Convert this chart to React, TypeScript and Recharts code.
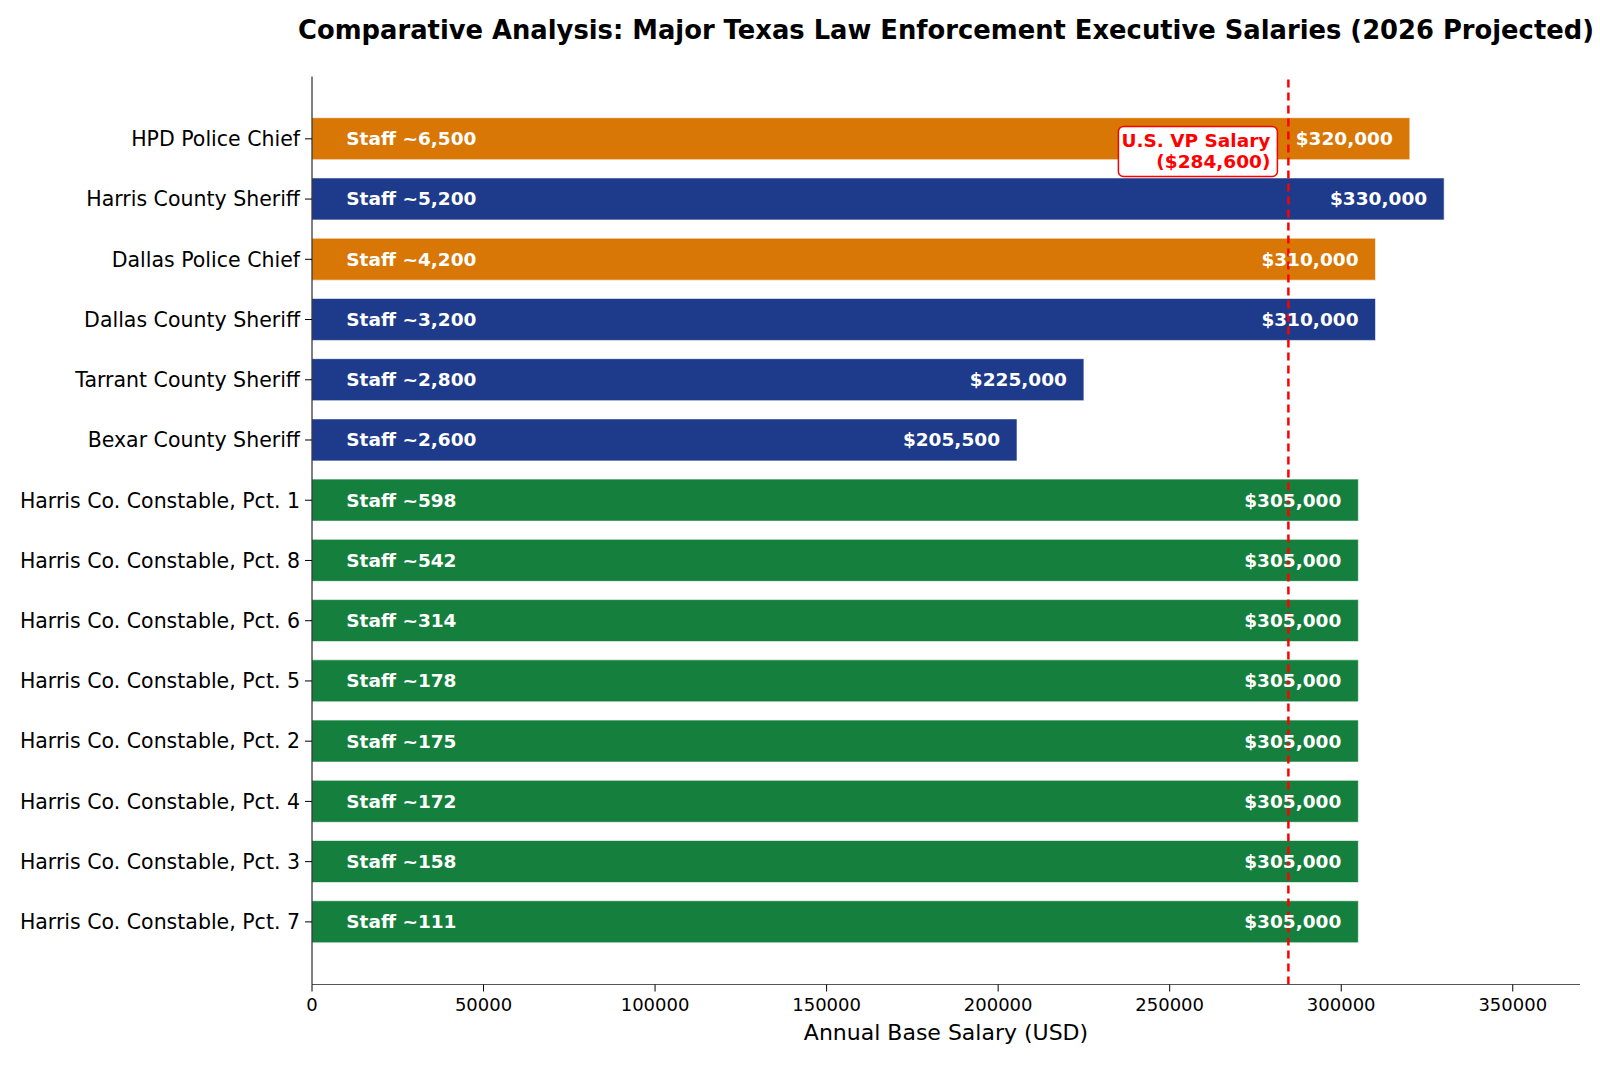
import React from 'react';
import {
  BarChart,
  Bar,
  XAxis,
  YAxis,
  Cell,
  LabelList,
  ReferenceLine,
} from 'recharts';

const positions = [
  'HPD Police Chief',
  'Harris County Sheriff',
  'Dallas Police Chief',
  'Dallas County Sheriff',
  'Tarrant County Sheriff',
  'Bexar County Sheriff',
  'Harris Co. Constable, Pct. 1',
  'Harris Co. Constable, Pct. 8',
  'Harris Co. Constable, Pct. 6',
  'Harris Co. Constable, Pct. 5',
  'Harris Co. Constable, Pct. 2',
  'Harris Co. Constable, Pct. 4',
  'Harris Co. Constable, Pct. 3',
  'Harris Co. Constable, Pct. 7',
];
const salaries = [320000, 330000, 310000, 310000, 225000, 205500, 305000, 305000, 305000, 305000, 305000, 305000, 305000, 305000];
const staff = ['6,500', '5,200', '4,200', '3,200', '2,800', '2,600', '598', '542', '314', '178', '175', '172', '158', '111'];
const kinds = ['police', 'sheriff', 'police', 'sheriff', 'sheriff', 'sheriff', 'constable', 'constable', 'constable', 'constable', 'constable', 'constable', 'constable', 'constable'];
const xTicks = [0, 50000, 100000, 150000, 200000, 250000, 300000, 350000];
const vpSalary = 284600;
const staffLabelAt = 10000;

const colors: Record<string, string> = {
  police: '#D97706',
  sheriff: '#1E3A8A',
  constable: '#15803D',
};

const data = positions.map((name, i) => ({
  name,
  salary: salaries[i],
  staff: `Staff ~${staff[i]}`,
  kind: kinds[i],
}));

const FONT = '"DejaVu Sans", sans-serif';

const SalaryLabel = (props: any) => {
  const { x, y, width, height, value } = props;
  return (
    <text
      x={x + width - 17}
      y={y + height / 2}
      textAnchor="end"
      dominantBaseline="central"
      fill="#ffffff"
      fontWeight="bold"
      fontSize={18.5}
      fontFamily={FONT}
    >
      {`$${Number(value).toLocaleString('en-US')}`}
    </text>
  );
};

const StaffLabel = (props: any) => {
  const { x, y, width, height, value, index } = props;
  const px = x + (width * staffLabelAt) / salaries[index];
  return (
    <text
      x={px}
      y={y + height / 2}
      textAnchor="start"
      dominantBaseline="central"
      fill="#ffffff"
      fontWeight="bold"
      fontSize={18.5}
      fontFamily={FONT}
    >
      {value}
    </text>
  );
};

const VpLabel = (props: any) => {
  const { viewBox } = props;
  const right = viewBox.x - 11;
  const top = viewBox.y + 50;
  return (
    <g>
      <rect x={right - 159} y={top} width={159} height={50} rx={5} ry={5} fill="#ffffff" stroke="#ff0000" strokeWidth={1.5} />
      <text x={right - 7} y={top + 13.5} textAnchor="end" dominantBaseline="central" fill="#ff0000" fontWeight="bold" fontSize={18.5} fontFamily={FONT}>
        U.S. VP Salary
      </text>
      <text x={right - 7} y={top + 34.5} textAnchor="end" dominantBaseline="central" fill="#ff0000" fontWeight="bold" fontSize={18.5} fontFamily={FONT}>
        {`($${vpSalary.toLocaleString('en-US')})`}
      </text>
    </g>
  );
};

const App: React.FC = () => {
  return (
    <div style={{ position: 'absolute', left: 0, top: 0, width: 1600, height: 1067, background: '#fff', fontFamily: FONT, overflow: 'hidden' }}>
      <div
        style={{
          position: 'absolute',
          top: 15,
          left: 946,
          transform: 'translateX(-50%)',
          lineHeight: '31px',
          fontSize: 25.8,
          fontWeight: 'bold',
          color: '#000',
          whiteSpace: 'nowrap',
        }}
      >
        Comparative Analysis: Major Texas Law Enforcement Executive Salaries (2026 Projected)
      </div>
      <BarChart
        width={1600}
        height={1067}
        data={data}
        layout="vertical"
        margin={{ top: 76.5, right: 20, bottom: 0, left: 0 }}
      >
        <XAxis
          type="number"
          dataKey="salary"
          domain={[0, 369600]}
          ticks={xTicks}
          allowDataOverflow
          height={82.5}
          stroke="#555555"
          tick={{ fill: '#000', fontSize: 18, fontFamily: FONT }}
          tickLine={{ stroke: '#000' }}
          tickSize={7}
          tickMargin={7}
          label={{ value: 'Annual Base Salary (USD)', position: 'insideTop', offset: 40, fill: '#000', fontSize: 22, fontFamily: FONT }}
        />
        <YAxis
          type="category"
          dataKey="name"
          width={312}
          padding={{ top: 32.2, bottom: 32.5 }}
          stroke="#000"
          tick={{ fill: '#000', fontSize: 20.5, fontFamily: FONT }}
          tickSize={7}
          tickMargin={5}
          interval={0}
        />
        <Bar dataKey="salary" barSize={42} isAnimationActive={false} stroke="#ffffff" strokeOpacity={0.6} strokeWidth={1}>
          {data.map((d, i) => (
            <Cell key={i} fill={colors[d.kind]} />
          ))}
          <LabelList dataKey="salary" content={SalaryLabel} />
          <LabelList dataKey="staff" content={StaffLabel} />
        </Bar>
        <ReferenceLine
          x={vpSalary}
          stroke="#ff0000"
          strokeWidth={2.5}
          strokeDasharray="8 5"
          label={VpLabel}
        />
      </BarChart>
    </div>
  );
};

export default App;
